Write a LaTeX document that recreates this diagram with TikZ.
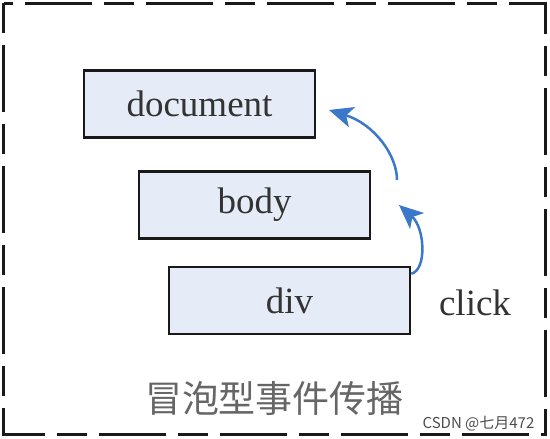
\documentclass[tikz,border=0pt]{standalone}
\usepackage{fontspec}
\setmainfont{Liberation Serif}
\newfontfamily\cjkfont{Noto Sans CJK SC}
\usetikzlibrary{arrows.meta}
\definecolor{boxfill}{HTML}{E5ECF7}
\definecolor{arrowblue}{HTML}{3B78C9}
\definecolor{txtgray}{HTML}{333333}
\tikzset{
  elbox/.style={draw=black!90, line width=2.5pt, fill=boxfill, minimum height=67pt, inner sep=0pt,
    font=\fontsize{37}{40}\selectfont, text=txtgray},
  bubble/.style={draw=arrowblue, line width=2.5pt, -{Stealth[length=24pt,width=21pt,inset=6pt]}},
  frame/.style={draw=black!90, line width=3pt, dash pattern=on 30pt off 12pt on 67pt off 12pt}
}
\begin{document}
\begin{tikzpicture}[x=1pt,y=-1pt]
\useasboundingbox (0,0) rectangle (550,439);
\draw[frame] (3.5,3) rectangle (545,434);
\node[elbox, minimum width=231pt] (doc) at (199.5,104) {document};
\node[elbox, minimum width=231pt] (body) at (254.5,205) {body};
\node[elbox, minimum width=241pt] (div) at (289.5,300.5) {div};
\node[font=\fontsize{37}{40}\selectfont, text=txtgray, anchor=base] (click) at (475,315) {click};
\coordinate (s1) at ([yshift=-8pt]div.north east);
\coordinate (t1) at (399,205);
\coordinate (s2) at (397,180);
\coordinate (t2) at (329,110);
\draw[bubble] (s1) .. controls (427,270) and (425,228) .. (t1);
\draw[bubble] (s2) .. controls (397,155) and (374,124) .. (t2);
\node[font=\cjkfont\fontsize{37}{40}\selectfont, text=black!60] (title) at (274.5,398) {冒泡型事件传播};
\node[font=\cjkfont\fontsize{15}{16}\selectfont, text=black!70, anchor=base] (wm) at (478.5,428) {CSDN @七月472};
\end{tikzpicture}
\end{document}
